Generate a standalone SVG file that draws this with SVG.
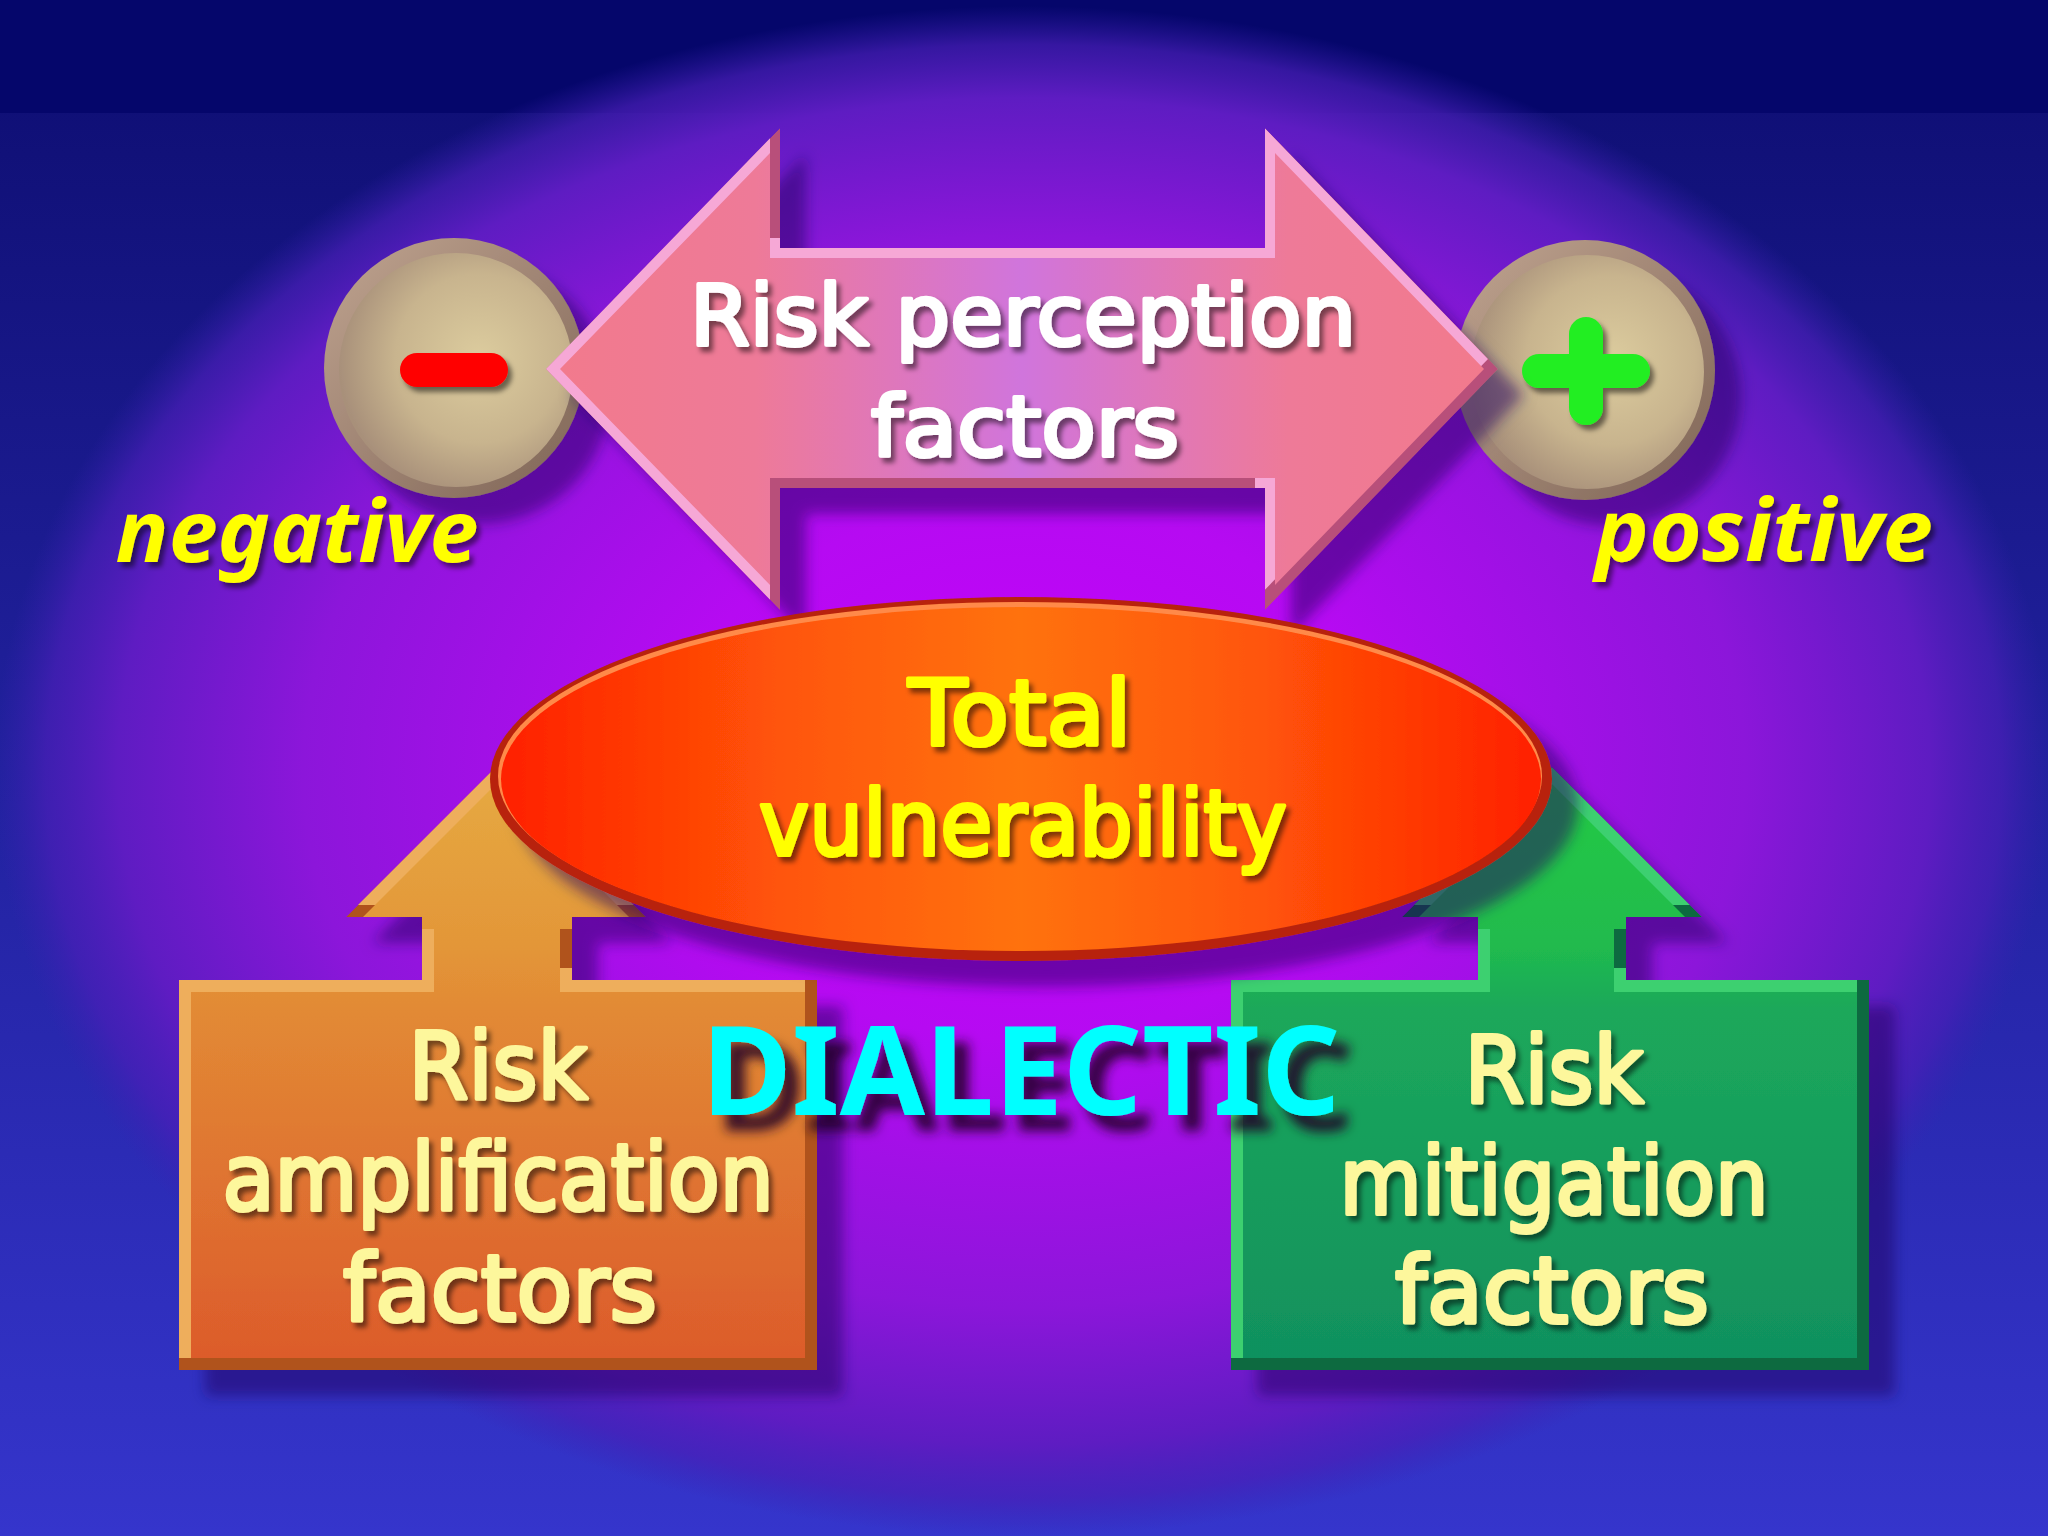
<svg xmlns="http://www.w3.org/2000/svg" width="2048" height="1536" viewBox="0 0 2048 1536">
<style>
  .t { font-family: "Noto Sans", "DejaVu Sans", sans-serif; font-weight: 700; text-anchor: middle; }
  .d { font-family: "DejaVu Sans", sans-serif; font-weight: 400; text-anchor: middle; stroke-width: 4px; stroke-linejoin: round; }
  .w { fill: #ffffff; stroke: #ffffff; font-size: 84px; }
  .y { fill: #ffff00; }
  .ys { fill: #ffff00; stroke: #ffff00; font-size: 90px; }
  .ly { fill: #fdf79c; stroke: #fdf79c; font-size: 92px; }
  .it { font-style: italic; font-size: 86px; }
</style>
<defs>
  <linearGradient id="bgV" x1="0" y1="0" x2="0" y2="1536" gradientUnits="userSpaceOnUse">
    <stop offset="0" stop-color="#0c0c72"/>
    <stop offset="0.1" stop-color="#111179"/>
    <stop offset="1" stop-color="#3535cc"/>
  </linearGradient>
  <radialGradient id="glow" cx="0.5" cy="0.5" r="0.5">
    <stop offset="0" stop-color="#c400fb"/>
    <stop offset="0.35" stop-color="#b60af2"/>
    <stop offset="0.7" stop-color="#8c16da"/>
    <stop offset="0.88" stop-color="#5e1cc2"/>
    <stop offset="0.95" stop-color="#4a1eb8" stop-opacity="0.7"/>
    <stop offset="1" stop-color="#3a20b0" stop-opacity="0"/>
  </radialGradient>
  <linearGradient id="pink" x1="546" y1="0" x2="1498" y2="0" gradientUnits="userSpaceOnUse">
    <stop offset="0" stop-color="#f27a8c"/>
    <stop offset="0.22" stop-color="#ee7a98"/>
    <stop offset="0.5" stop-color="#d074dc"/>
    <stop offset="0.78" stop-color="#ee7a98"/>
    <stop offset="1" stop-color="#f27a8c"/>
  </linearGradient>
  <linearGradient id="orange" x1="0" y1="767" x2="0" y2="1370" gradientUnits="userSpaceOnUse">
    <stop offset="0" stop-color="#e6aa42"/>
    <stop offset="0.3" stop-color="#e39638"/>
    <stop offset="0.4" stop-color="#e28a35"/>
    <stop offset="1" stop-color="#dc5a2b"/>
  </linearGradient>
  <linearGradient id="green" x1="0" y1="767" x2="0" y2="1370" gradientUnits="userSpaceOnUse">
    <stop offset="0" stop-color="#24cc42"/>
    <stop offset="0.3" stop-color="#20ba4e"/>
    <stop offset="0.4" stop-color="#1ca85a"/>
    <stop offset="1" stop-color="#10905e"/>
  </linearGradient>
  <linearGradient id="ellG" x1="490" y1="0" x2="1552" y2="0" gradientUnits="userSpaceOnUse">
    <stop offset="0" stop-color="#ff1e00"/>
    <stop offset="0.28" stop-color="#ff5608"/>
    <stop offset="0.5" stop-color="#ff7210"/>
    <stop offset="0.72" stop-color="#ff5608"/>
    <stop offset="1" stop-color="#ff1e00"/>
  </linearGradient>
  <radialGradient id="face" cx="0.6" cy="0.45" r="0.6">
    <stop offset="0" stop-color="#dccc9e"/>
    <stop offset="0.6" stop-color="#c8b48e"/>
    <stop offset="1" stop-color="#a8907a"/>
  </radialGradient>
  <linearGradient id="rim" x1="0" y1="0" x2="1" y2="1">
    <stop offset="0" stop-color="#c0a490"/>
    <stop offset="1" stop-color="#7e6456"/>
  </linearGradient>
  <filter id="sh" x="-10%" y="-10%" width="130%" height="130%">
    <feDropShadow dx="26" dy="26" stdDeviation="7" flood-color="#1a0660" flood-opacity="0.5"/>
  </filter>
  <filter id="tsh" x="-10%" y="-20%" width="130%" height="160%">
    <feDropShadow dx="4" dy="5" stdDeviation="2.5" flood-color="#000000" flood-opacity="0.5"/>
  </filter>
  <filter id="dsh" x="-10%" y="-30%" width="130%" height="180%">
    <feDropShadow dx="14" dy="16" stdDeviation="6" flood-color="#200028" flood-opacity="0.85"/>
  </filter>
  <clipPath id="cPink"><path d="M546,369 L780,128 L780,248 L1265,248 L1265,128 L1498,369 L1265,610 L1265,488 L780,488 L780,610 Z"/></clipPath>
  <clipPath id="cOr"><path d="M496,767 L646,917 L572,917 L572,980 L817,980 L817,1370 L179,1370 L179,980 L422,980 L422,917 L346,917 Z"/></clipPath>
  <clipPath id="cGr"><path d="M1552,767 L1702,917 L1626,917 L1626,980 L1869,980 L1869,1370 L1231,1370 L1231,980 L1478,980 L1478,917 L1402,917 Z"/></clipPath>
</defs>

<g id="background">
  <rect width="2048" height="1536" fill="url(#bgV)"/>
  <rect width="2048" height="113" fill="#05066b"/>
  <ellipse cx="1024" cy="771" rx="1030" ry="765" fill="url(#glow)"/>
</g>

<g id="node-amplification">
  <g filter="url(#sh)">
    <g clip-path="url(#cOr)">
      <path d="M496,767 L646,917 L572,917 L572,980 L817,980 L817,1370 L179,1370 L179,980 L422,980 L422,917 L346,917 Z" fill="#b0521e"/>
      <path transform="translate(-12,-12)" d="M496,767 L646,917 L572,917 L572,980 L817,980 L817,1370 L179,1370 L179,980 L422,980 L422,917 L346,917 Z" fill="#eeae5c"/>
      <path d="M496,784 L641,929 L560,929 L560,992 L805,992 L805,1358 L191,1358 L191,992 L434,992 L434,929 L351,929 Z" fill="url(#orange)"/>
    </g>
  </g>
</g>

<g id="node-mitigation">
  <g filter="url(#sh)">
    <g clip-path="url(#cGr)">
      <path d="M1552,767 L1702,917 L1626,917 L1626,980 L1869,980 L1869,1370 L1231,1370 L1231,980 L1478,980 L1478,917 L1402,917 Z" fill="#0c6a40"/>
      <path transform="translate(-12,-12)" d="M1552,767 L1702,917 L1626,917 L1626,980 L1869,980 L1869,1370 L1231,1370 L1231,980 L1478,980 L1478,917 L1402,917 Z" fill="#3cd070"/>
      <path d="M1552,784 L1697,929 L1614,929 L1614,992 L1857,992 L1857,1358 L1243,1358 L1243,992 L1490,992 L1490,929 L1407,929 Z" fill="url(#green)"/>
    </g>
  </g>
</g>

<g id="node-negative">
  <g filter="url(#sh)">
    <circle cx="454" cy="368" r="130" fill="url(#rim)"/>
    <circle cx="456" cy="370" r="117" fill="url(#face)"/>
  </g>
  <rect x="400" y="353" width="108" height="34" rx="17" fill="#ff0000" filter="url(#tsh)"/>
  <text class="t y it" x="297" y="562" textLength="363" lengthAdjust="spacingAndGlyphs" filter="url(#tsh)">negative</text>
</g>

<g id="node-positive">
  <g filter="url(#sh)">
    <circle cx="1585" cy="370" r="130" fill="url(#rim)"/>
    <circle cx="1587" cy="372" r="117" fill="url(#face)"/>
  </g>
  <g fill="#22ee22" filter="url(#tsh)">
    <rect x="1569" y="317" width="34" height="108" rx="17"/>
    <rect x="1522" y="354" width="128" height="34" rx="17"/>
  </g>
  <text class="t y it" x="1764" y="561" textLength="338" lengthAdjust="spacingAndGlyphs" filter="url(#tsh)">positive</text>
</g>

<g id="connectors">
  <g id="perception-arrow" filter="url(#sh)">
    <g clip-path="url(#cPink)">
      <path d="M546,369 L780,128 L780,248 L1265,248 L1265,128 L1498,369 L1265,610 L1265,488 L780,488 L780,610 Z" fill="#b8507a"/>
      <path transform="translate(-10,-10)" d="M546,369 L780,128 L780,248 L1265,248 L1265,128 L1498,369 L1265,610 L1265,488 L780,488 L780,610 Z" fill="#f6a8d6"/>
      <path d="M560,369 L770,153 L770,258 L1275,258 L1275,153 L1484,369 L1275,585 L1275,478 L770,478 L770,585 Z" fill="url(#pink)"/>
    </g>
  </g>
</g>

<g id="node-perception">
  <text class="d w" filter="url(#tsh)"><tspan x="1023" y="345" textLength="666" lengthAdjust="spacingAndGlyphs">Risk perception</tspan><tspan x="1025" y="456" textLength="308" lengthAdjust="spacingAndGlyphs">factors</tspan></text>
</g>

<g id="node-total">
  <g filter="url(#sh)">
    <ellipse cx="1021" cy="779" rx="531" ry="182" fill="#b82408"/>
    <ellipse cx="1020" cy="776" rx="522" ry="174" fill="#ff8a4a"/>
    <ellipse cx="1021" cy="779" rx="520" ry="172" fill="url(#ellG)"/>
  </g>
  <text class="d ys" filter="url(#tsh)"><tspan x="1020" y="745" textLength="223" lengthAdjust="spacingAndGlyphs">Total</tspan><tspan x="1023" y="855" textLength="528" lengthAdjust="spacingAndGlyphs">vulnerability</tspan></text>
</g>

<g id="text-amplification">
  <text class="d ly" filter="url(#tsh)"><tspan x="498" y="1099" textLength="179" lengthAdjust="spacingAndGlyphs">Risk</tspan><tspan x="498" y="1210" textLength="551" lengthAdjust="spacingAndGlyphs">amplification</tspan><tspan x="500" y="1321" textLength="314" lengthAdjust="spacingAndGlyphs">factors</tspan></text>
</g>

<g id="text-mitigation">
  <text class="d ly" filter="url(#tsh)"><tspan x="1554" y="1103" textLength="179" lengthAdjust="spacingAndGlyphs">Risk</tspan><tspan x="1554" y="1214" textLength="429" lengthAdjust="spacingAndGlyphs">mitigation</tspan><tspan x="1552" y="1323" textLength="314" lengthAdjust="spacingAndGlyphs">factors</tspan></text>
</g>

<g id="node-dialectic">
  <text class="t" style="font-size:124px;fill:#00ffff" x="1021" y="1115" textLength="639" lengthAdjust="spacingAndGlyphs" filter="url(#dsh)">DIALECTIC</text>
</g>
</svg>
